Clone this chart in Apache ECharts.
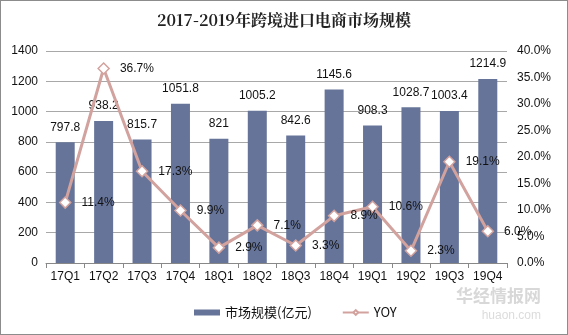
<!DOCTYPE html>
<html><head><meta charset="utf-8">
<script src="https://cdn.jsdelivr.net/npm/echarts@6/dist/echarts.min.js"></script>
<style>html,body{margin:0;padding:0;background:#fff}#c{width:568px;height:335px;box-sizing:border-box;border:1px solid #8c8c8c}</style>
</head><body><div id="c"></div>
<script>
const categories = ['17Q1','17Q2','17Q3','17Q4','18Q1','18Q2','18Q3','18Q4','19Q1','19Q2','19Q3','19Q4'];
const marketSize = [797.8, 938.2, 815.7, 1051.8, 821, 1005.2, 842.6, 1145.6, 908.3, 1028.7, 1003.4, 1214.9];
const yoy = [11.4, 36.7, 17.3, 9.9, 2.9, 7.1, 3.3, 8.9, 10.6, 2.3, 19.1, 6.0];
const title = '2017-2019年跨境进口电商市场规模';
const seriesNames = ['市场规模(亿元)', 'YOY'];

const chart = echarts.init(document.getElementById('c'));
const font = 'Liberation Sans, Arial, sans-serif';
chart.setOption({
  animation: false,
  title: { text: title, left: 'center', top: 6,
    textStyle: { fontFamily: 'Noto Serif CJK SC, Liberation Serif, serif', fontSize: 16, fontWeight: 'bold', color: '#222' } },
  grid: { left: 45, right: 60, top: 50, bottom: 71 },
  legend: { bottom: 10, left: 188, itemGap: 30, itemWidth: 26, itemHeight: 6,
    textStyle: { fontSize: 13, color: '#111', fontFamily: 'Noto Sans CJK SC, sans-serif' },
    data: [{ name: seriesNames[0], icon: 'rect' }, { name: seriesNames[1] }] },
  xAxis: { type: 'category', data: categories,
    axisLine: { lineStyle: { color: '#888' } },
    axisTick: { show: true, lineStyle: { color: '#888' } },
    axisLabel: { color: '#111', fontSize: 12, fontFamily: font, margin: 8 } },
  yAxis: [
    { type: 'value', min: 0, max: 1400, interval: 200,
      axisLine: { show: false }, axisTick: { show: false },
      axisLabel: { color: '#111', fontSize: 12, fontFamily: font, margin: 8, formatter: v => String(v) },
      splitLine: { lineStyle: { color: '#a8a8a8' } } },
    { type: 'value', min: 0, max: 40, interval: 5,
      axisLine: { show: false }, axisTick: { show: false },
      axisLabel: { color: '#111', fontSize: 12, fontFamily: font, margin: 10, formatter: v => v.toFixed(1) + '%' },
      splitLine: { show: false } }
  ],
  series: [
    { name: seriesNames[0], type: 'bar', data: marketSize, barWidth: 19,
      itemStyle: { color: '#667499' },
      label: { show: true, position: 'top', distance: 9, color: '#111', fontSize: 12, fontFamily: font } },
    { name: seriesNames[1], type: 'line', yAxisIndex: 1, data: yoy,
      symbol: 'diamond', symbolSize: 11, showAllSymbol: true,
      lineStyle: { color: '#d2a29e', width: 3 },
      itemStyle: { color: '#fff', borderColor: '#d2a29e', borderWidth: 1.5 },
      label: { show: true, position: 'right', distance: 10, color: '#111', fontSize: 12, fontFamily: font,
        formatter: p => p.value.toFixed(1) + '%' } }
  ],
  graphic: [
    { type: 'text', right: 26, bottom: 30, style: { text: '华经情报网', fontSize: 17, fontWeight: 'bold', fill: '#d8d8d8', fontFamily: 'Noto Sans CJK SC, sans-serif' } },
    { type: 'text', right: 26, bottom: 12, style: { text: 'huaon.com', fontSize: 12, fill: '#dcdcdc', fontFamily: font } }
  ]
});
</script></body></html>
